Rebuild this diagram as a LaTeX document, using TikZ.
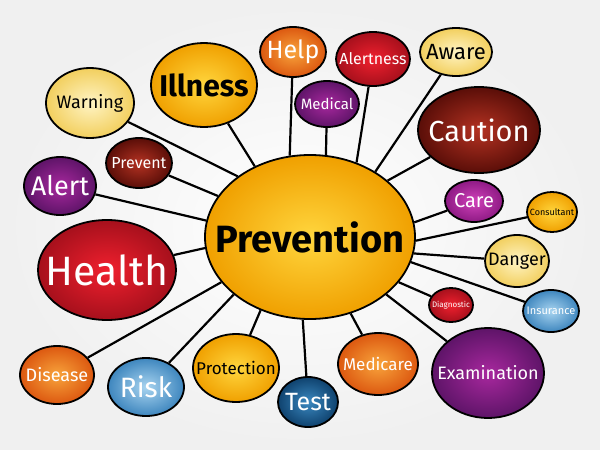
\documentclass[tikz,border=0pt]{standalone}
\usepackage{fontspec}
\setmainfont{Fira Sans}
\usetikzlibrary{shapes.geometric}
\definecolor{yelI}{HTML}{FFF4C4}\definecolor{yelO}{HTML}{F2CF5E}
\definecolor{goldI}{HTML}{FFD63E}\definecolor{goldO}{HTML}{F0A000}
\definecolor{orgI}{HTML}{F8A43C}\definecolor{orgO}{HTML}{DC5810}
\definecolor{redI}{HTML}{F0202E}\definecolor{redO}{HTML}{A6101C}
\definecolor{marI}{HTML}{B43222}\definecolor{marO}{HTML}{5A0E08}
\definecolor{purI}{HTML}{A8289E}\definecolor{purO}{HTML}{5E1468}
\definecolor{magI}{HTML}{D042BA}\definecolor{magO}{HTML}{8E1A84}
\definecolor{bluI}{HTML}{A8D4F0}\definecolor{bluO}{HTML}{3E86BE}
\definecolor{dbluI}{HTML}{3A88C0}\definecolor{dbluO}{HTML}{0F426E}
\tikzset{
  bub/.style={ellipse, draw=black, line width=1.8pt, inner sep=0pt},
  con/.style={line width=2.2pt, draw=black},
  wt/.style={text=white, inner sep=0pt},
  bt/.style={text=black, inner sep=0pt},
  sYel/.style={inner color=yelI, outer color=yelO},
  sGold/.style={inner color=goldI, outer color=goldO},
  sOrg/.style={inner color=orgI, outer color=orgO},
  sRed/.style={inner color=redI, outer color=redO},
  sMar/.style={inner color=marI, outer color=marO},
  sPur/.style={inner color=purI, outer color=purO},
  sMag/.style={inner color=magI, outer color=magO},
  sBlu/.style={inner color=bluI, outer color=bluO},
  sDblu/.style={inner color=dbluI, outer color=dbluO},
}
\newcommand\bub[9]{%
  \node[bub,#6,minimum width=#4pt,minimum height=#5pt] (#1) at (#2,#3) {};
  \node[#7,font=\fontsize{#8}{#8}\selectfont] (#1-t) at (#1) {#9};}
\begin{document}
\begin{tikzpicture}[x=1pt,y=-1pt]
\useasboundingbox (0,0) rectangle (600,450);
\fill[inner color=white, outer color=gray!12] (0,0) rectangle (600,450);
\bub{main}{310}{237}{210}{164}{sGold}{bt}{38}{\bfseries Prevention}
\bub{warning}{90}{103}{88}{70}{sYel}{bt}{18}{Warning}
\bub{illness}{204}{85}{106}{84}{sGold}{bt}{30}{\bfseries Illness}
\bub{help}{293}{52}{66}{50}{sOrg}{wt}{25}{Help}
\bub{medical}{327}{104}{64}{46}{sPur}{wt}{15}{Medical}
\bub{alertness}{373}{59}{74}{54}{sRed}{wt}{16}{Alertness}
\bub{aware}{456}{52}{72}{48}{sYel}{bt}{22}{Aware}
\bub{caution}{479}{130}{122}{86}{sMar}{wt}{29}{Caution}
\bub{care}{474}{201}{58}{42}{sMag}{wt}{20}{Care}
\bub{consultant}{552}{212}{50}{40}{sGold}{bt}{9}{Consultant}
\bub{danger}{517}{261}{64}{52}{sYel}{bt}{18}{Danger}
\bub{insurance}{551}{311}{56}{42}{sBlu}{wt}{11}{Insurance}
\bub{diagnostic}{451}{305}{44}{34}{sRed}{wt}{8}{Diagnostic}
\bub{examination}{488}{373}{112}{90}{sPur}{wt}{18}{Examination}
\bub{medicare}{378}{364}{80}{62}{sOrg}{wt}{17}{Medicare}
\bub{test}{308}{402}{60}{50}{sDblu}{wt}{25}{Test}
\bub{protection}{236}{368}{86}{68}{sGold}{bt}{17}{Protection}
\bub{risk}{146}{387}{76}{58}{sBlu}{wt}{28}{Risk}
\bub{disease}{57}{375}{74}{58}{sOrg}{wt}{18}{Disease}
\bub{health}{107}{270}{138}{100}{sRed}{wt}{41}{Health}
\bub{alert}{60}{186}{72}{58}{sPur}{wt}{27}{Alert}
\bub{prevent}{139}{163}{66}{50}{sMar}{wt}{16}{Prevent}
\foreach \n/\a in {warning/140,illness/128,help/104,medical/79,alertness/58,
  aware/45,caution/36,care/8,consultant/-2,danger/-9,insurance/-14,
  diagnostic/-27,examination/-37,medicare/-62,test/-95,protection/236,
  risk/217,disease/207,health/186,alert/171,prevent/156}
  \draw[con] (main.\a) -- (\n);
\end{tikzpicture}
\end{document}
